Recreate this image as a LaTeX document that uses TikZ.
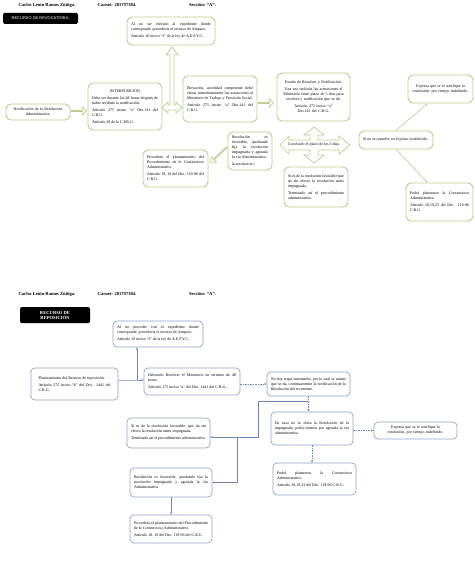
\documentclass[tikz,border=0pt]{standalone}
\usepackage{fontspec}
\setmainfont{Liberation Serif}
\newfontfamily\labelsans{Liberation Sans}
\usetikzlibrary{shapes}
\usetikzlibrary{arrows.meta}
\definecolor{leafgreen}{RGB}{186,206,146}
\definecolor{slateblue}{RGB}{146,162,200}
\definecolor{linkblue}{RGB}{112,132,184}
\newcommand{\boxfont}{\fontsize{4}{5}\selectfont}
\newcommand{\headfont}{\fontsize{4.6}{5.5}\selectfont\bfseries}
\hyphenpenalty=10000
\tolerance=9999

\tikzset{
  greenbox/.style={draw=leafgreen, line width=0.9pt, rounded corners=5pt, fill=white, font=\boxfont, align=justify, inner xsep=4pt, inner ysep=2pt},
  bluebox/.style={draw=slateblue, line width=0.7pt, rounded corners=4pt, fill=white, font=\boxfont, align=justify, inner xsep=4pt, inner ysep=2pt},
  titlebar/.style={fill=black, rounded corners=1.5pt, text=white, align=center},
  hollowarrow/.style={single arrow, draw=leafgreen, line width=0.7pt, fill=white, inner sep=0pt, minimum width=8pt, single arrow head extend=2pt, minimum height=15pt},
  greenlink/.style={draw=leafgreen, line width=0.6pt, -{Stealth[length=2.5pt,width=2pt]}},
  bluelink/.style={draw=linkblue, line width=0.6pt, -{Stealth[length=2.5pt,width=2pt]}},
  dashlink/.style={bluelink, dash pattern=on 1.5pt off 1pt},
}

\begin{document}
\begin{tikzpicture}[x=1pt,y=1pt,yscale=-1]
    \path[fill=white, use as bounding box] (0,0) rectangle (474,575);

    % ---- Recurso de revocatoria ----
    % Header
    \node (namea) at (47,5) [font=\headfont] {Carlos Lenin Ramos Zúñiga.};
    \node (carneta) at (117,5) [font=\headfont] {Carnet: 201797384.};
    \node (secciona) at (202.5,5) [font=\headfont] {Sección: ``A''.};
    % Title
    \node (titlea) at (40.5,18.5) [titlebar, minimum width=75pt, minimum height=11pt, font=\labelsans\fontsize{4}{5}\selectfont] {RECURSO DE REVOCATORIA.};

    % Text Node
    \node (amparoa) at (171,31) [greenbox, text width=80pt, minimum height=28pt] {Al no ser elevado al expediente donde corresponde, procedería el recurso de Amparo.\\[2pt]
    Artículo 10 inciso ``f'' de la ley de A.E.P.Y.C.};
    % Text Node
    \node (notif) at (38,112) [greenbox, align=center, text width=56pt, minimum height=16pt] {Notificación de la Resolución\\ Administrativa.};
    % Text Node
    \node (interp) at (125,106.5) [greenbox, text width=66pt, minimum height=47pt] {\centerline{INTERPOSICIÓN}\vspace{2pt}
    Debe ser durante las 48 horas después de haber recibido la notificación.\\[2pt]
    Artículo 275 inciso ``a'' Dto.141 del C.R.G.\\[2pt]
    Artículo 29 de la C.P.R.G.};
    % Text Node
    \node (elev) at (220,99) [greenbox, text width=66pt, minimum height=46pt] {Elevación, autoridad competente debe elevar inmediatamente las actuaciones al Ministerio de Trabajo y Previsión Social.\\[2pt]
    Artículo 275 inciso ``a'' Dto.141 del C.R.G.};
    % Text Node
    \node (estado) at (313.5,97) [greenbox, align=center, inner xsep=3pt, text width=67pt, minimum height=48pt] {Estado de Resolver y Notificación.\\[2pt]
    Una vez recibida las actuaciones el Ministerio tiene plazo de 5 días para resolver y notificación que se dé.\\[2pt]
    Artículo 275 inciso ``a'' Dto.141 del C.R.G.};
    % Text Node
    \node (favor) at (250,151) [greenbox, text width=36pt, minimum height=38pt] {Resolución es favorable, quedando fija la resolución impugnada y agotada la vía Administrativa.\\[2pt]
    la resolución i};
    % Text Node
    \node (proced) at (175.5,168.5) [greenbox, text width=57pt, minimum height=37pt] {Procederá el planteamiento del Procedimiento de lo Contencioso Administrativo.\\[2pt]
    Artículo 18, 19 del Dto. 119-96 del C.R.G.};
    % Text Node
    \node (sies) at (316,187) [greenbox, text width=56pt, minimum height=40pt] {Si es de la resolución favorable que da sin efecto la resolución antes impugnada.\\[2pt]
    Terminado así el procedimiento administrativo.};
    % Text Node
    \node (sino) at (396,140) [greenbox, text width=66pt, minimum height=18pt] {Si no se resuelve en el plazo establecido.};
    % Text Node
    \node (expresa) at (440.5,89) [greenbox, align=center, text width=57pt, minimum height=28pt] {Expresa que se le notifique la resolución, por tiempo indefinido.};
    % Text Node
    \node (podra) at (439.5,202) [greenbox, text width=59pt, minimum height=38pt] {Podrá plantearse la Contencioso Administrativo.\\[2pt]
    Artículo 18,19,23 del Dto. 119-96 C.R.G.};

    % Block arrows
    \node (arrowa) at (78.5,111) [hollowarrow] {};
    \node (arrowb) at (265.5,103) [hollowarrow] {};
    \node (arrowc) at (219,154.5) [hollowarrow, minimum height=22pt, rotate=223] {};
    % three way arrow
    \draw[leafgreen, line width=0.7pt, fill=white] (162,107.5) -- (168,102) -- (168,105) -- (170,105) -- (170,55) -- (166,55) -- (172,47) -- (178,55) -- (174,55) -- (174,105) -- (176,105) -- (176,102) -- (182,107.5) -- (176,113) -- (176,110) -- (168,110) -- (168,113) -- cycle;
    % four way arrow
    \draw[leafgreen, line width=0.7pt, fill=white] (280,145) -- (289,136) -- (289,140) -- (310,140) -- (310,135) -- (304,135) -- (314,127) -- (324,135) -- (318,135) -- (318,140) -- (339,140) -- (339,136) -- (350,145) -- (339,154) -- (339,150) -- (318,150) -- (318,155) -- (324,155) -- (314,163) -- (304,155) -- (310,155) -- (310,150) -- (289,150) -- (289,154) -- cycle;
    \node (plazo) at (314,145) [font=\boxfont, inner sep=0pt] {Concluido el plazo de los 5 días.};

    % Links
    \draw[greenlink] (sino.north) -- ([xshift=-13pt]expresa.south);
    \draw[greenlink] (sino.south) -- ([xshift=-12pt]podra.north);

    % ---- Recurso de reposicion ----
    % Header
    \node (nameb) at (47,294) [font=\headfont] {Carlos Lenin Ramos Zúñiga.};
    \node (carnetb) at (117,294) [font=\headfont] {Carnet: 201797384.};
    \node (seccionb) at (202.5,294) [font=\headfont] {Sección: ``A''.};
    % Title
    \node (titleb) at (55,315) [titlebar, minimum width=70pt, minimum height=16pt, font=\fontsize{4.6}{5}\selectfont\bfseries] {RECURSO DE\\ REPOSICIÓN};

    % Text Node
    \node (amparob) at (158,334) [bluebox, text width=82pt, minimum height=26pt] {Al no proceder con el expediente donde corresponde, procedería el recurso de Amparo.\\[2pt]
    Artículo 10 inciso ``f'' de la ley de A.E.P.Y.C.};
    % Text Node
    \node (plant) at (74.5,384) [bluebox, inner xsep=7.5pt, text width=72pt, minimum height=32pt] {Planteamiento del Recurso de reposición.\\[2pt]
    Artículo 275 inciso ``b'' del Dto. 1441 del C.R.G.};
    % Text Node
    \node (debiendo) at (192,381.5) [bluebox, text width=88pt, minimum height=27pt] {Debiendo Resolver el Ministerio en termino de 48 horas.\\[2pt]
    Artículo 275 inciso ``a'' del Dto. 1441 del C.R.G.};
    % Text Node
    \node (nohay) at (308.5,384) [bluebox, text width=75pt, minimum height=24pt] {No hay etapa intermedia, por lo cual se asume que se da, continuamente la notificación de la Resolución del recurrente.};
    % Text Node
    \node (encaso) at (312,428.5) [bluebox, text width=74pt, minimum height=33pt] {En caso no se diera la Resolución de la impugnada, podrá tenerse por agotada la vía administrativa.};
    % Text Node
    \node (expresab) at (415.5,430.5) [bluebox, align=center, text width=75pt, minimum height=17pt] {Expresa que se le notifique la resolución, por tiempo indefinido.};
    % Text Node
    \node (podrab) at (314.5,479) [bluebox, text width=75pt, minimum height=32pt] {Podrá plantearse la Contencioso Administrativo.\\[2pt]
    Artículo 18,19,23 del Dto. 119-96 C.R.G.};
    % Text Node
    \node (siesb) at (168.5,433) [bluebox, text width=75pt, minimum height=30pt] {Si es de la resolución favorable, que da sin efecto la resolución antes impugnada.\\[2pt]
    Terminado así el procedimiento administrativo.};
    % Text Node
    \node (favorb) at (171,482.5) [bluebox, text width=74pt, minimum height=29pt] {Resolución es favorable, quedando fija la resolución impugnada y agotada la vía Administrativa.};
    % Text Node
    \node (procedb) at (171,529) [bluebox, text width=74pt, minimum height=28pt] {Procederá el planteamiento del Procedimiento de lo Contencioso Administrativo.\\[2pt]
    Artículo 18, 19 del Dto. 119-96 del C.R.G.};

    % Junctions
    \coordinate (ja) at (137,380);
    \coordinate (jb) at (308.5,401);
    \coordinate (jc) at (258,437);
    \coordinate (jd) at (237,437);

    % Links
    \draw[bluelink] (plant.east |- ja) -- (ja) -- (ja -| debiendo.west);
    \draw[bluelink] (ja) -- (ja |- amparob.south);
    \draw[dashlink] (debiendo.east |- nohay.west) -- (nohay.west);
    \draw[dashlink] (nohay.south) -- (nohay.south |- encaso.north);
    \draw[bluelink] (jb) -| (jc) -- (siesb.east |- jc);
    \draw[bluelink] (jd) -- (jd |- favorb.east) -- (favorb.east);
    \draw[dashlink] (encaso.east |- expresab.west) -- (expresab.west);
    \draw[dashlink] (encaso.south) -- (encaso.south |- podrab.north);
    \draw[bluelink] (favorb.south) -- (procedb.north);
\end{tikzpicture}
\end{document}
